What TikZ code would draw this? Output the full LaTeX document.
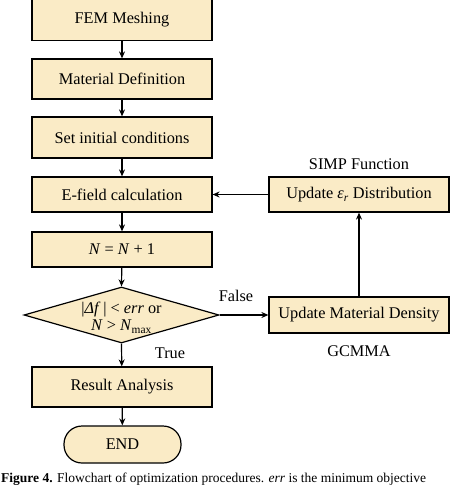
\documentclass[tikz,border=0pt]{standalone}
\usepackage{fontspec}
\setmainfont{Liberation Serif}
\usetikzlibrary{shapes.geometric,arrows.meta}
\definecolor{boxfill}{HTML}{FAEBC6}
\begin{document}
\begin{tikzpicture}[x=1pt,y=-1pt,
  every node/.style={font=\fontsize{16.3}{18}\selectfont},
  procbox/.style={draw,fill=boxfill,line width=1.2pt,minimum width=180pt,inner sep=0pt},
  decbox/.style={draw,fill=boxfill,line width=1.2pt,diamond,aspect=3.5,minimum width=195pt,minimum height=56pt,inner sep=0pt},
  endbox/.style={draw,fill=boxfill,line width=1.2pt,rounded corners=18pt,minimum width=117pt,minimum height=37pt,inner sep=0pt},
  lbl/.style={font=\fontsize{16.3}{18}\selectfont},
  arr/.style={-{Stealth[length=7pt,width=6pt]},line width=1.2pt}]
\useasboundingbox (0,0) rectangle (474,486);
\begin{scope}
\clip (0,0) rectangle (474,486);
\node[procbox,minimum height=41pt] (fem) at (122,20) {FEM Meshing};
\node[procbox,minimum height=40pt] (mat) at (122,79) {Material Definition};
\node[procbox,minimum height=41pt] (init) at (122,137.5) {Set initial conditions};
\node[procbox,minimum height=35pt] (ef) at (122,194.5) {E-field calculation};
\node[procbox,minimum height=35pt] (nn) at (122,249.5) {\textit{N} = \textit{N} + 1};
\node[decbox] (dec) at (121.5,315) {\smash{\makebox[0pt]{\raisebox{-0.35\height}{\begin{tabular}{@{}c@{}}|\textit{Δf}\,| < \textit{err} or\\[-1pt]\textit{N} > \textit{N}\textsubscript{max}\end{tabular}}}}};
\node[procbox,minimum height=40pt] (res) at (122,387) {Result Analysis};
\node[endbox] (end) at (122.5,444.5) {END};
\node[procbox,minimum height=35pt] (upe) at (359,194.5) {Update \textit{ε}\textsubscript{\textit{r}} Distribution};
\node[procbox,minimum height=36pt] (upm) at (359,315) {Update Material Density};
\node[lbl] (simp) at (359,164) {SIMP Function};
\node[lbl] (gcmma) at (359,351) {GCMMA};
\node[lbl] (false) at (236,296) {False};
\node[lbl] (true) at (170,353) {True};
\node[anchor=base west,inner sep=0pt,font=\fontsize{13.5}{15}\selectfont] (cap) at (1,482) {\textbf{Figure 4.} Flowchart of optimization procedures. \textit{err} is the minimum objective};
\end{scope}
\draw[arr] (fem) -- (mat);
\draw[arr] (mat) -- (init);
\draw[arr] (init) -- (ef);
\draw[arr] (ef) -- (nn);
\draw[arr] (nn) -- (dec.north);
\draw[arr] (dec.south) -- (res);
\draw[arr] (res) -- (end);
\draw[arr] (dec.east) -- (upm.west);
\draw[arr] (upm) -- (upe);
\draw[arr] (upe) -- (ef);
\end{tikzpicture}
\end{document}
